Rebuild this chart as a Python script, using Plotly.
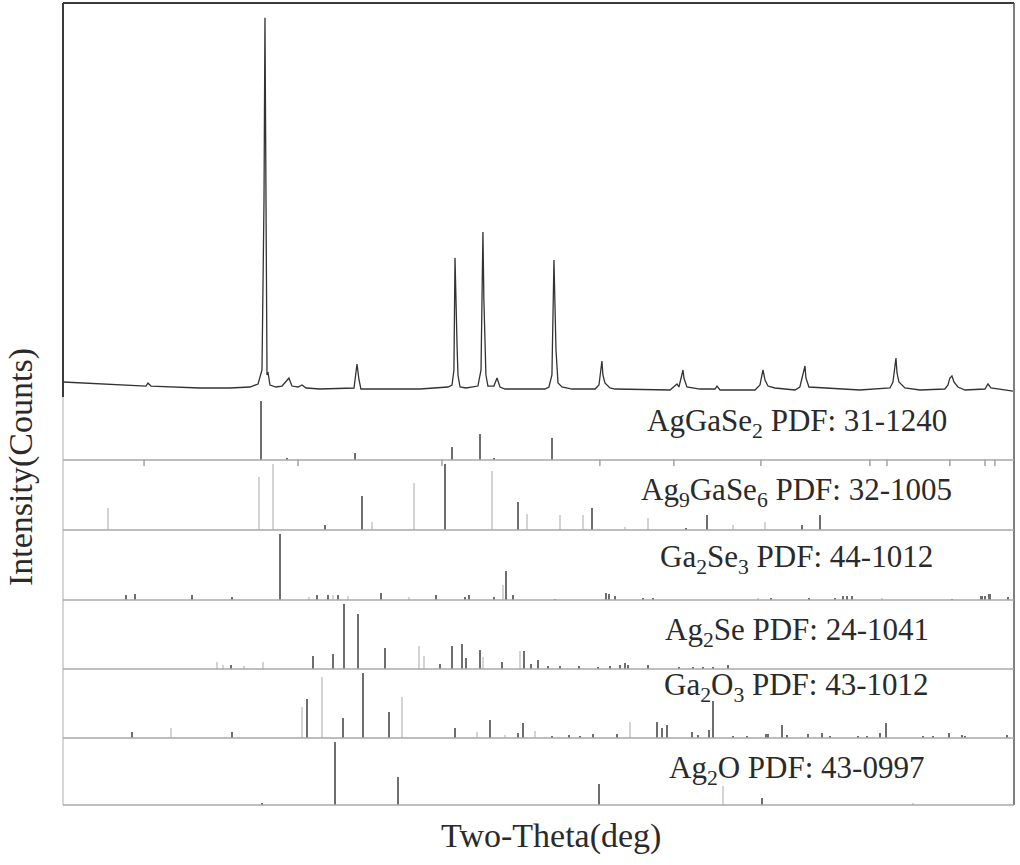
import plotly.graph_objects as go

# measured XRD pattern (two-theta in deg, intensity in counts)
two_theta = [
    10.00, 13.10, 16.45, 16.95, 17.12, 17.37, 21.48, 23.99, 25.66, 26.34,
    26.67, 26.84, 26.92, 27.01, 27.09, 27.17, 27.34, 27.84, 28.35, 28.93,
    29.18, 29.69, 30.02, 30.36, 31.53, 34.38, 34.63, 34.80, 34.96, 39.91,
    42.25, 42.59, 42.75, 42.84, 42.92, 43.01, 43.09, 43.26, 43.76, 44.76,
    45.02, 45.18, 45.26, 45.35, 45.43, 45.60, 46.10, 46.36, 46.61, 47.03,
    50.38, 50.71, 50.96, 51.13, 51.21, 51.30, 51.47, 51.80, 52.64, 54.57,
    54.90, 55.15, 55.23, 55.40, 55.82, 56.24, 60.85, 61.27, 61.44, 61.60,
    61.94, 62.02, 62.27, 63.36, 64.62, 64.79, 65.04, 67.97, 68.39, 68.64,
    68.81, 69.06, 69.64, 71.32, 71.73, 72.16, 72.24, 72.49, 76.76, 79.28,
    79.53, 79.78, 79.87, 80.03, 80.53, 81.79, 83.88, 84.14, 84.30, 84.47,
    84.64, 84.97, 85.56, 87.24, 87.49, 87.74, 88.91, 89.58]
counts = [
    381, 330, 279, 279, 356, 279, 229, 229, 254, 330,
    686, 5004, 9627, 3988, 559, 635, 305, 254, 279, 483,
    279, 254, 305, 229, 203, 229, 838, 432, 203, 203,
    254, 305, 686, 3531, 1956, 1321, 559, 254, 229, 279,
    686, 4191, 2464, 1194, 559, 279, 279, 483, 254, 203,
    203, 254, 559, 3480, 1956, 1194, 356, 254, 203, 203,
    305, 914, 559, 356, 229, 203, 178, 279, 330, 254,
    686, 483, 254, 203, 203, 279, 178, 178, 305, 686,
    432, 279, 229, 178, 254, 787, 483, 254, 178, 229,
    381, 991, 610, 381, 229, 178, 203, 305, 483, 533,
    381, 254, 178, 203, 330, 229, 178, 152]

# peaks found by the search routine
peak_marks = [16.79, 29.69, 41.75, 54.98, 61.18, 68.47, 77.60, 79.03, 84.30, 87.24, 88.07]

# reference cards: line positions (deg) and relative intensities
aggase2_x = [26.59, 28.76, 34.46, 42.59, 44.93, 46.10, 50.96]
aggase2_i = [100, 3, 12, 22, 43, 3, 37]

ag9gase6_x = [31.95, 35.05, 42.00, 48.12, 54.31, 62.19, 63.95, 71.91, 73.41]
ag9gase6_i = [8, 52, 100, 42, 34, 3, 23, 8, 23]
ag9gase6_faint_x = [13.77, 26.42, 27.59, 35.88, 39.40, 45.94, 48.87, 51.63, 53.56, 57.08, 59.01, 66.13, 68.81]
ag9gase6_faint_i = [34, 80, 100, 12, 71, 89, 25, 23, 23, 5, 18, 8, 12]

ga2se3_x = [15.28, 16.03, 20.81, 24.16, 28.18, 31.28, 32.20, 33.04, 36.64, 41.25,
            43.68, 44.01, 46.10, 47.11, 47.70, 51.21, 55.49, 55.74, 56.24, 58.59,
            59.42, 69.31, 72.49, 74.67, 75.34, 75.68, 76.09, 84.47, 86.98, 87.24,
            87.65, 89.16]
ga2se3_i = [8, 9, 8, 5, 100, 8, 8, 8, 11, 8,
            5, 8, 5, 44, 8, 2, 11, 9, 6, 3,
            3, 3, 3, 3, 6, 6, 6, 2, 6, 6,
            9, 5]
ga2se3_faint_x = [30.61, 32.62, 33.87, 38.98, 46.86, 68.22, 78.61]
ga2se3_faint_i = [5, 8, 6, 5, 23, 3, 3]

ag2se_x = [24.07, 30.94, 32.62, 33.54, 34.71, 36.97, 41.58, 42.59, 43.42, 43.76,
           44.93, 46.77, 48.62, 49.20, 49.79, 50.63, 51.63, 53.23, 54.82, 55.82,
           56.66, 57.08, 57.33, 59.01, 61.60, 62.78, 63.61, 64.45, 65.71]
ag2se_i = [6, 20, 23, 100, 85, 33, 8, 36, 38, 17,
           29, 11, 27, 8, 14, 5, 5, 5, 3, 5,
           6, 9, 6, 6, 3, 3, 3, 3, 6]
ag2se_faint_x = [22.90, 23.40, 25.16, 26.75, 39.82, 40.24, 45.18, 48.28]
ag2se_faint_i = [11, 6, 5, 11, 35, 20, 18, 27]

ga2o3_x = [15.78, 24.16, 30.44, 33.46, 35.13, 37.31, 42.84, 45.77, 48.12, 48.53,
           50.96, 52.39, 53.31, 54.40, 56.41, 59.76, 60.18, 60.60, 62.69, 63.19,
           64.12, 64.45, 66.13, 67.30, 68.89, 69.06, 70.23, 70.65, 72.41, 73.58,
           74.25, 76.60, 77.35, 78.44, 78.94, 82.04, 82.88, 84.22, 85.31, 85.56,
           89.08]
ga2o3_i = [9, 9, 60, 31, 100, 40, 15, 28, 8, 23,
           3, 5, 3, 6, 6, 25, 15, 20, 9, 5,
           12, 57, 3, 3, 6, 6, 20, 5, 6, 8,
           3, 3, 3, 8, 23, 3, 3, 8, 5, 3,
           5]
ga2o3_faint_x = [19.05, 30.02, 31.70, 38.40, 44.68, 47.03, 49.54, 57.50]
ga2o3_faint_i = [15, 48, 94, 63, 9, 5, 11, 25]

ag2o_x = [26.67, 32.79, 38.06, 54.90, 68.55]
ag2o_i = [2, 100, 44, 33, 11]
ag2o_faint_x = [65.29, 81.20]
ag2o_faint_i = [30, 3]

card_labels = [
    "AgGaSe<sub>2</sub> PDF: 31-1240",
    "Ag<sub>9</sub>GaSe<sub>6</sub> PDF: 32-1005",
    "Ga<sub>2</sub>Se<sub>3</sub> PDF: 44-1012",
    "Ag<sub>2</sub>Se PDF: 24-1041",
    "Ga<sub>2</sub>O<sub>3</sub> PDF: 43-1012",
    "Ag<sub>2</sub>O PDF: 43-0997",
]

cards = [
    (aggase2_x, aggase2_i, [], []),
    (ag9gase6_x, ag9gase6_i, ag9gase6_faint_x, ag9gase6_faint_i),
    (ga2se3_x, ga2se3_i, ga2se3_faint_x, ga2se3_faint_i),
    (ag2se_x, ag2se_i, ag2se_faint_x, ag2se_faint_i),
    (ga2o3_x, ga2o3_i, ga2o3_faint_x, ga2o3_faint_i),
    (ag2o_x, ag2o_i, ag2o_faint_x, ag2o_faint_i),
]

# panel boundaries in paper coords (top panel first)
bounds = [1.0, 0.5087, 0.4302, 0.3429, 0.2556, 0.1696, 0.0835, 0.0]
label_y = [0.4763, 0.3903, 0.3067, 0.2157, 0.1471, 0.0436]

serif = "Liberation Serif, Times New Roman, serif"
dark = "#6e6e6e"
faint = "#d4d4d4"

fig = go.Figure()

fig.add_trace(go.Scatter(x=two_theta, y=counts, mode="lines",
                         line=dict(color="#333333", width=1.3),
                         xaxis="x", yaxis="y", hoverinfo="skip"))

for k, (px, pi, fx, fi) in enumerate(cards):
    ya = "y%d" % (k + 2)
    if fx:
        fig.add_trace(go.Bar(x=fx, y=fi, width=0.12, marker=dict(color=faint, line=dict(width=0)),
                             xaxis="x", yaxis=ya))
    fig.add_trace(go.Bar(x=px, y=pi, width=0.15, marker=dict(color=dark, line=dict(width=0)),
                         xaxis="x", yaxis=ya))

fig.add_trace(go.Scatter(x=peak_marks, y=[102] * len(peak_marks), mode="markers",
                         marker=dict(symbol="line-ns", size=5, line=dict(color="#777777", width=1)),
                         xaxis="x", yaxis="y3", cliponaxis=False))

axis_off = dict(showticklabels=False, showgrid=False, zeroline=False, showline=False,
                ticks="", anchor="x", fixedrange=True)

layout = dict(
    width=1020, height=865,
    margin=dict(l=63, r=6, t=3, b=60),
    plot_bgcolor="white", paper_bgcolor="white",
    showlegend=False, barmode="overlay", bargap=0,
    xaxis=dict(range=[10, 89.67], showticklabels=False, showgrid=False, zeroline=False,
               showline=False, ticks="", anchor="y7"),
    yaxis=dict(domain=[bounds[1], bounds[0]], range=[0, 10000], **axis_off),
)
for k in range(6):
    layout["yaxis%d" % (k + 2)] = dict(domain=[bounds[k + 2], bounds[k + 1]], range=[0, 106], **axis_off)
fig.update_layout(**layout)

shapes = []
# frame of the measured pattern
shapes.append(dict(type="line", xref="paper", yref="paper", x0=0, x1=0, y0=bounds[1], y1=1,
                   line=dict(color="#3a3a3a", width=2)))
shapes.append(dict(type="line", xref="paper", yref="paper", x0=0, x1=1, y0=1, y1=1,
                   line=dict(color="#3a3a3a", width=2)))
shapes.append(dict(type="line", xref="paper", yref="paper", x0=1, x1=1, y0=0, y1=1,
                   line=dict(color="#555555", width=1.5)))
shapes.append(dict(type="line", xref="paper", yref="paper", x0=0, x1=0, y0=0, y1=bounds[1],
                   line=dict(color="#c8c8c8", width=1.5)))
for b in bounds[2:]:
    shapes.append(dict(type="line", xref="paper", yref="paper", x0=0, x1=1, y0=b, y1=b,
                       line=dict(color="#a8a8a8", width=1.5)))
fig.update_layout(shapes=shapes)

annotations = []
for txt, yy in zip(card_labels, label_y):
    annotations.append(dict(text=txt, xref="paper", yref="paper", x=0.7718, y=yy,
                            xanchor="center", yanchor="middle", showarrow=False,
                            font=dict(family=serif, size=31, color="#2a2a2a")))
annotations.append(dict(text="Two-Theta(deg)", xref="paper", yref="paper", x=0.513, y=-0.0387,
                        xanchor="center", yanchor="middle", showarrow=False,
                        font=dict(family=serif, size=34, color="#2a2a2a")))
annotations.append(dict(text="Intensity(Counts)", xref="paper", yref="paper", x=-0.0442, y=0.4214,
                        xanchor="center", yanchor="middle", showarrow=False, textangle=-90,
                        font=dict(family=serif, size=34, color="#2a2a2a")))
fig.update_layout(annotations=annotations)

# drop the default page margin so the figure sits at the window corner
fig.write_html("out.html", config={"displayModeBar": False},
               post_script="document.body.style.margin='0';")
